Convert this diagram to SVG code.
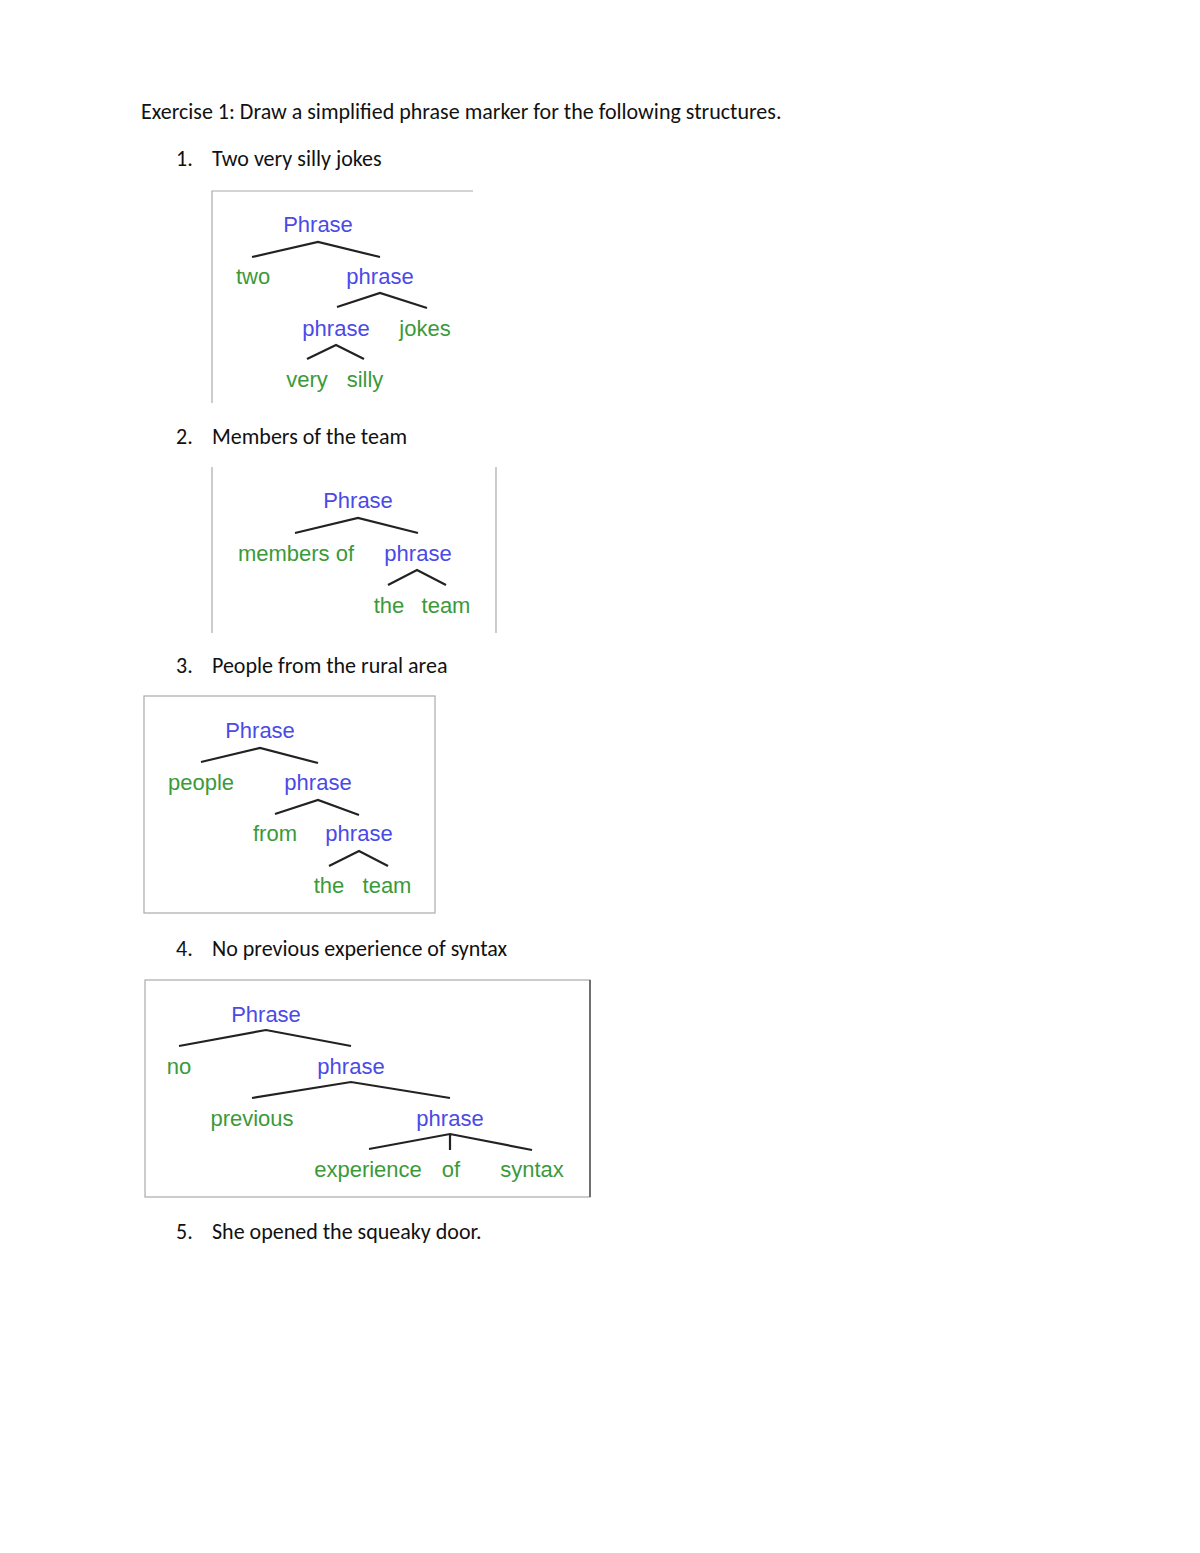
<svg xmlns="http://www.w3.org/2000/svg" width="1200" height="1553" viewBox="0 0 1200 1553">
<style>
.h{font-family:Carlito,Lato,"Liberation Sans",sans-serif;font-size:22px;fill:#111}
.b{font-family:"Liberation Sans",Arial,sans-serif;font-size:22px;fill:#4a4ae6;text-anchor:middle}
.g{font-family:"Liberation Sans",Arial,sans-serif;font-size:22px;fill:#3a9a3a;text-anchor:middle}
.ln{fill:none;stroke:#222;stroke-width:2.2}
.fr{fill:none;stroke:#aaa;stroke-width:1.2}
</style>
<rect width="1200" height="1553" fill="#fff"/>
<g id="headings">
<text class="h" x="141" y="119">Exercise 1: Draw a simplified phrase marker for the following structures.</text>
<text class="h" x="176" y="166">1.</text><text class="h" x="212" y="166">Two very silly jokes</text>
<text class="h" x="176" y="444">2.</text><text class="h" x="212" y="444">Members of the team</text>
<text class="h" x="176" y="673">3.</text><text class="h" x="212" y="673">People from the rural area</text>
<text class="h" x="176" y="956">4.</text><text class="h" x="212" y="956">No previous experience of syntax</text>
<text class="h" x="176" y="1239">5.</text><text class="h" x="212" y="1239">She opened the squeaky door.</text>
</g>
<g id="frames">
<path class="fr" d="M212,403 V191 H473"/>
<path class="fr" d="M212,467 V633 M496,467 V633"/>
<rect class="fr" x="144" y="696" width="291" height="217"/>
<rect class="fr" x="145" y="980" width="445" height="217"/>
<path d="M590,980 V1197" stroke="#333" stroke-width="1.2"/>
</g>
<g id="connectors">
<path class="ln" d="M252,257 L318,242 L380,257 M337,307 L380,293 L427,308 M307,359 L336,345 L364,359"/>
<path class="ln" d="M295,533 L358,518 L418,533 M388,585 L417,570 L446,585"/>
<path class="ln" d="M201,762 L260,748 L318,763 M275,814 L318,800 L359,815 M329,866 L359,851 L388,866"/>
<path class="ln" d="M179,1046 L266,1030 L351,1046 M252,1098 L351,1082 L450,1098 M369,1149 L450,1134 L532,1150 M450,1134 V1150"/>
</g>
<g id="tree1">
<text class="b" x="318" y="232">Phrase</text>
<text class="g" x="253" y="284">two</text><text class="b" x="380" y="284">phrase</text>
<text class="b" x="336" y="336">phrase</text><text class="g" x="425" y="336">jokes</text>
<text class="g" x="307" y="387">very</text><text class="g" x="365" y="387">silly</text>
</g>
<g id="tree2">
<text class="b" x="358" y="508">Phrase</text>
<text class="g" x="296" y="561">members of</text><text class="b" x="418" y="561">phrase</text>
<text class="g" x="389" y="613">the</text><text class="g" x="446" y="613">team</text>
</g>
<g id="tree3">
<text class="b" x="260" y="738">Phrase</text>
<text class="g" x="201" y="790">people</text><text class="b" x="318" y="790">phrase</text>
<text class="g" x="275" y="841">from</text><text class="b" x="359" y="841">phrase</text>
<text class="g" x="329" y="893">the</text><text class="g" x="387" y="893">team</text>
</g>
<g id="tree4">
<text class="b" x="266" y="1022">Phrase</text>
<text class="g" x="179" y="1074">no</text><text class="b" x="351" y="1074">phrase</text>
<text class="g" x="252" y="1126">previous</text><text class="b" x="450" y="1126">phrase</text>
<text class="g" x="368" y="1177">experience</text><text class="g" x="451" y="1177">of</text><text class="g" x="532" y="1177">syntax</text>
</g>
</svg>
